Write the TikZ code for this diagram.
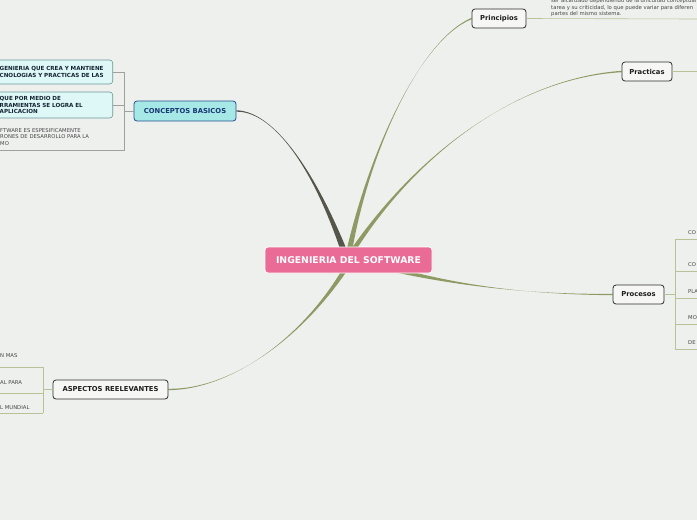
\documentclass[tikz,border=0pt]{standalone}
\usepackage{fontspec}
\setmainfont{DejaVu Sans}
\usetikzlibrary{calc}

\definecolor{bgcol}{RGB}{238,240,238}
\definecolor{pinkfill}{RGB}{233,107,150}
\definecolor{topicfill}{RGB}{246,246,244}
\definecolor{topicline}{RGB}{45,45,45}
\definecolor{topicink}{RGB}{30,30,30}
\definecolor{cyanfill}{RGB}{166,232,230}
\definecolor{cyanline}{RGB}{40,80,140}
\definecolor{cyanink}{RGB}{25,55,115}
\definecolor{leaffill}{RGB}{221,248,246}
\definecolor{leafline}{RGB}{110,150,150}
\definecolor{leafink}{RGB}{20,35,50}
\definecolor{noteink}{RGB}{70,70,70}
\definecolor{olive}{RGB}{142,154,100}
\definecolor{darkbranch}{RGB}{85,85,74}
\definecolor{twigcol}{RGB}{184,194,150}
\definecolor{graytwig}{RGB}{160,160,160}

\pgfdeclarelayer{back}
\pgfsetlayers{back,main}

\tikzset{
	central/.style={fill=pinkfill, draw=white, line width=0.8pt, rounded corners=3pt, text=white,
		font=\bfseries\fontsize{9.3}{10}\selectfont, minimum width=167pt, minimum height=26pt, inner sep=0pt},
	topic/.style={fill=topicfill, draw=topicline, line width=0.8pt, rounded corners=3pt, text=topicink,
		font=\bfseries\fontsize{6.8}{8}\selectfont, minimum height=19pt, inner sep=0pt},
	basic/.style={topic, fill=cyanfill, draw=cyanline, text=cyanink, minimum height=20pt},
	leafbox/.style={fill=leaffill, draw=leafline, line width=0.6pt, rounded corners=3pt, text=leafink,
		font=\bfseries\fontsize{5.6}{6.8}\selectfont, align=left, inner xsep=3pt, inner ysep=0pt, anchor=east},
	note/.style={text=noteink, font=\fontsize{5.3}{6.3}\selectfont, align=left, inner sep=0pt},
	twig/.style={draw=twigcol, line width=0.6pt},
	graytwig/.style={draw=graytwig, line width=0.6pt}
}

% tapered branch: from, control 1, control 2, to, half width at start, colour
\newcommand{\branch}[6]{%
	\fill[#6] ($(#1)+(#5)$) .. controls (#2) and (#3) .. ($(#4)+(0,-0.7)$)
		-- ($(#4)+(0,0.7)$) .. controls (#3) and (#2) .. ($(#1)-(#5)$) -- cycle;}

\begin{document}
\begin{tikzpicture}[x=1pt, y=-1pt]
	\useasboundingbox (0,0) rectangle (697,520);

	\node[central] (soft) at (348.5,260) {INGENIERIA DEL SOFTWARE};
	\node[topic, minimum width=54pt] (princ) at (499,18.5) {Principios};
	\node[topic, minimum width=50pt] (pract) at (647,71.5) {Practicas};
	\node[topic, minimum width=51pt] (proc) at (638.5,294.5) {Procesos};
	\node[basic, minimum width=102pt] (conc) at (185,111) {CONCEPTOS BASICOS};
	\node[topic, minimum width=115pt] (asp) at (110.5,389.5) {ASPECTOS REELEVANTES};

	\coordinate (s1) at ($(soft.north)+(-5,3)$);
	\coordinate (s2) at ($(soft.north)+(1,3)$);
	\coordinate (s3) at ($(soft.north)+(5,3)$);
	\coordinate (s4) at ($(soft.south east)+(-35,-3)$);
	\coordinate (s5) at ($(soft.south)+(-4,-3)$);

	\begin{pgfonlayer}{back}
		\fill[bgcol] (0,0) rectangle (697,520);
		\branch{s1}{310,160}{270,111}{conc.east}{3.2,0}{darkbranch}
		\branch{s2}{370,150}{420,40}{princ.west}{2.8,0}{olive}
		\branch{s3}{420,150}{520,78}{pract.west}{2.8,0}{olive}
		\branch{s4}{470,288}{540,294.5}{proc.west}{0,2.4}{olive}
		\branch{s5}{300,340}{230,389.5}{asp.east}{2.8,0}{olive}
	\end{pgfonlayer}

	% principios
	\coordinate (pe) at (697,19);
	\draw[twig] (princ.east) -- (pe);
	\node[note, anchor=north west] (pnote) at (551,-1.5)
		{ser alcanzado dependiendo de la dificultad conceptual\\
		 tarea y su criticidad, lo que puede variar para diferen\\
		 partes del mismo sistema.};

	% practicas
	\coordinate (qe) at (697,71.5);
	\draw[twig] (pract.east) -- (qe);

	% procesos
	\coordinate (pb) at (675,294.5);
	\coordinate (pbt) at (675,239);
	\coordinate (pbb) at (675,349);
	\draw[twig] (proc.east) -- (pb);
	\draw[twig] (pbt) -- (pbb);
	\foreach \y/\lbl [count=\i] in {239/CO, 271/CO, 298/PLA, 324/MO, 349/DE} {
		\coordinate (pl\i) at (697,\y);
		\draw[twig] (675,\y) -- (pl\i);
		\node[note, anchor=base west] (pn\i) at (688,\y-4.5) {\lbl};
	}

	% conceptos basicos
	\node[leafbox, text width=110pt, minimum height=24pt] (c1) at (113,72)
		{GENIERIA QUE CREA Y MANTIENE\\CNOLOGIAS Y PRACTICAS DE LAS};
	\node[leafbox, text width=110pt, minimum height=26pt] (c2) at (113,105)
		{QUE POR MEDIO DE\\RRAMIENTAS SE LOGRA EL\\APLICACION};
	\node[note, anchor=north west] (c3) at (0,128.5)
		{FTWARE ES ESPESIFICAMENTE\\RONES DE DESARROLLO PARA LA\\MO};
	\coordinate (cb) at (124,111);
	\coordinate (cbb) at (124,150);
	\coordinate (u3) at (0,150);
	\draw[graytwig] (conc.west) -- (cb);
	\draw[graytwig] (c1.east) -- (c1.east -| cb) -- (cbb) -- (u3);
	\draw[graytwig] (c2.east) -- (c2.east -| cb);

	% aspectos reelevantes
	\coordinate (ab) at (43,389.5);
	\coordinate (abt) at (43,367);
	\coordinate (abb) at (43,413);
	\draw[twig] (asp.west) -- (ab);
	\draw[twig] (abt) -- (abb);
	\foreach \y/\ty/\lbl [count=\i] in {367/357/N MAS, 393/384/AL PARA, 413/409/L MUNDIAL} {
		\coordinate (al\i) at (0,\y);
		\draw[twig] (43,\y) -- (al\i);
		\node[note, anchor=base west] (an\i) at (0,\ty) {\lbl};
	}
\end{tikzpicture}
\end{document}
